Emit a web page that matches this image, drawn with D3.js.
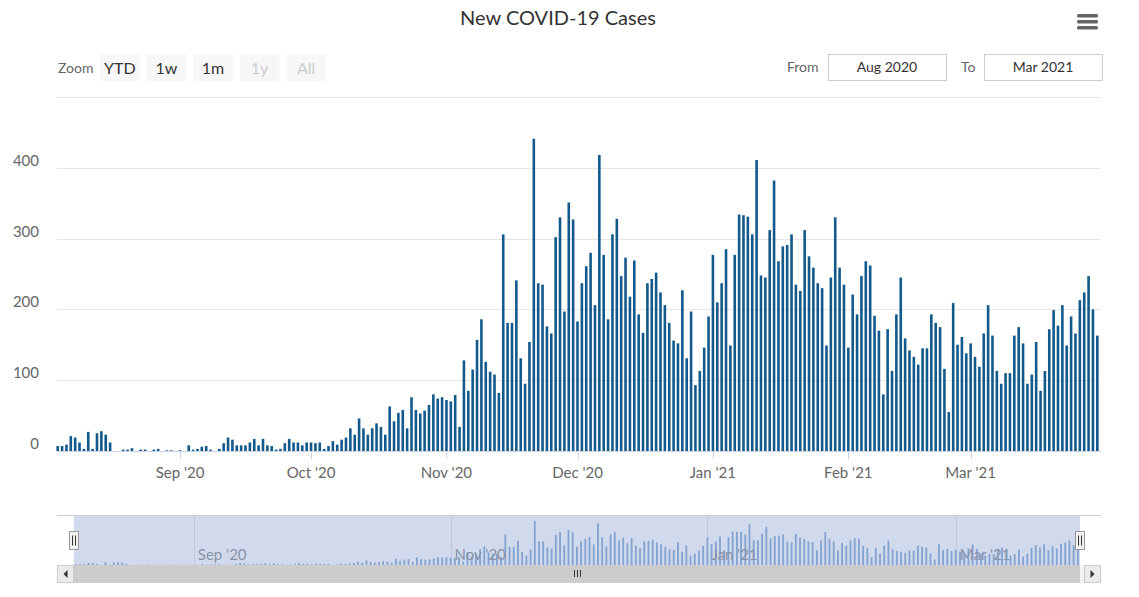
<!DOCTYPE html>
<html>
<head>
<meta charset="utf-8">
<script src="https://cdn.jsdelivr.net/npm/d3@7"></script>
<style>
  body { margin: 0; background: #fff; }
  text { font-family: Lato, "Open Sans", sans-serif; }
</style>
</head>
<body>
<div id="chart"></div>
<script>
// daily values, first bar is 4 Aug 2020, last is 30 Mar 2021
const startDay = "2020-08-04";
const newCases = [
  7,7,9,21,19,12,3,27,3,25,28,23,12,0,0,2,2,4,0,2,2,0,2,3,0,1,1,0,1,0,8,
  2,3,6,7,2,0,3,11,19,16,8,8,8,12,17,8,17,8,7,2,3,11,17,12,12,8,12,12,
  11,12,3,7,14,9,16,19,32,23,46,32,23,32,39,34,23,63,42,54,58,32,76,58,53,57,65,80,74,76,
  72,70,79,34,128,85,115,157,186,126,112,108,82,306,181,181,241,131,95,154,441,237,235,176,166,302,330,197,351,327,
  183,237,261,280,206,418,277,186,306,328,247,273,218,269,193,167,237,243,252,224,206,181,156,152,227,131,197,93,113,146,190,
  277,210,237,285,149,277,334,333,331,306,411,248,245,312,382,268,289,291,306,235,226,312,275,259,237,230,149,245,330,259,235,
  146,221,193,247,268,262,191,170,80,172,113,193,245,159,142,133,122,145,145,193,181,175,116,55,209,150,161,138,
  152,133,119,166,206,163,113,95,110,110,163,175,152,95,108,154,85,113,172,199,177,206,149,190,166,213,224,247,200,163
];

const yTicks = [0, 100, 200, 300, 400, 500];
const monthTicks = ["2020-09-01","2020-10-01","2020-11-01","2020-12-01","2021-01-01","2021-02-01","2021-03-01"];
const monthLabels = ["Sep '20","Oct '20","Nov '20","Dec '20","Jan '21","Feb '21","Mar '21"];
const navTicks = ["2020-09-01","2020-11-01","2021-01-01","2021-03-01"];
const navLabels = ["Sep '20","Nov '20","Jan '21","Mar '21"];
const zoomButtons = ["YTD", "1w", "1m", "1y", "All"];
const zoomEnabled = [true, true, true, false, false];
const fromText = "Aug 2020";
const toText = "Mar 2021";

const W = 1139, H = 597;
const plotL = 57, plotR = 1101, plotT = 97, plotB = 451;
const navTop = 515, navBottom = 565;

const parse = d3.timeParse("%Y-%m-%d");
const first = parse(startDay);
const days = newCases.map((v, i) => d3.timeDay.offset(first, i));
const last = days[days.length - 1];
const rangeStart = d3.timeHour.offset(first, -12);
const rangeEnd = d3.timeHour.offset(last, 12);

const svg = d3.select("#chart").append("svg")
  .attr("width", W)
  .attr("height", H);

svg.append("rect").attr("width", W).attr("height", H).attr("fill", "#fff");

// title + menu
svg.append("text")
  .attr("x", 558).attr("y", 25)
  .attr("text-anchor", "middle")
  .attr("font-size", 20)
  .attr("fill", "#333")
  .text("New COVID-19 Cases");

svg.append("g").selectAll("rect")
  .data([14, 20, 26])
  .enter().append("rect")
    .attr("x", 1077).attr("y", d => d)
    .attr("width", 21).attr("height", 3.5)
    .attr("rx", 1.5)
    .attr("fill", "#666");

// range selector
svg.append("text")
  .attr("x", 58).attr("y", 73)
  .attr("font-size", 14).attr("fill", "#666")
  .text("Zoom");

const btnX = d3.scaleBand().domain(zoomButtons).range([100, 326]).paddingInner(0.15);
const btn = svg.append("g").selectAll("g")
  .data(zoomButtons)
  .enter().append("g")
    .attr("transform", d => "translate(" + btnX(d) + ",54)");
btn.append("rect")
  .attr("width", btnX.bandwidth()).attr("height", 27)
  .attr("fill", "#f7f7f7");
btn.append("text")
  .attr("x", btnX.bandwidth() / 2).attr("y", 20)
  .attr("text-anchor", "middle")
  .attr("font-size", 16)
  .attr("fill", (d, i) => zoomEnabled[i] ? "#333" : "#cccccc")
  .text(d => d);

// from / to boxes
function inputBox(label, labelX, boxX, value) {
  svg.append("text")
    .attr("x", labelX).attr("y", 72)
    .attr("font-size", 14).attr("fill", "#666")
    .text(label);
  svg.append("rect")
    .attr("x", boxX + 0.5).attr("y", 54.5)
    .attr("width", 118).attr("height", 26)
    .attr("fill", "#fff").attr("stroke", "#cccccc");
  svg.append("text")
    .attr("x", boxX + 59).attr("y", 72)
    .attr("text-anchor", "middle")
    .attr("font-size", 14).attr("fill", "#333")
    .text(value);
}
inputBox("From", 787, 828, fromText);
inputBox("To", 961, 984, toText);

// main chart
const x = d3.scaleTime().domain([rangeStart, rangeEnd]).range([plotL - 1.5, plotR - 1.5]);
const y = d3.scaleLinear().domain([0, 500]).range([plotB, plotT]);

svg.append("g").selectAll("line")
  .data(yTicks.slice(1))
  .enter().append("line")
    .attr("x1", plotL).attr("x2", plotR)
    .attr("y1", d => Math.round(y(d)) + 0.5)
    .attr("y2", d => Math.round(y(d)) + 0.5)
    .attr("stroke", "#e6e6e6");

svg.append("g").selectAll("text")
  .data(yTicks.slice(0, -1))
  .enter().append("text")
    .attr("x", 39).attr("y", d => y(d) - 2)
    .attr("text-anchor", "end")
    .attr("font-size", 15).attr("fill", "#666")
    .text(d => d);

const bw = 2.6;
svg.append("g").selectAll("rect")
  .data(newCases)
  .enter().append("rect")
    .attr("x", (d, i) => x(days[i]) - bw / 2)
    .attr("y", d => y(d))
    .attr("width", bw)
    .attr("height", d => plotB - y(d))
    .attr("fill", "#135a8c");

svg.append("line")
  .attr("x1", plotL).attr("x2", plotR)
  .attr("y1", plotB + 0.5).attr("y2", plotB + 0.5)
  .attr("stroke", "#ccd6eb");

const mt = monthTicks.map(parse);
svg.append("g").selectAll("line")
  .data(mt)
  .enter().append("line")
    .attr("x1", d => Math.round(x(d)) + 0.5).attr("x2", d => Math.round(x(d)) + 0.5)
    .attr("y1", plotB).attr("y2", plotB + 8)
    .attr("stroke", "#ccd6eb");
svg.append("g").selectAll("text")
  .data(mt)
  .enter().append("text")
    .attr("x", d => x(d)).attr("y", 478)
    .attr("text-anchor", "middle")
    .attr("font-size", 15).attr("fill", "#666")
    .text((d, i) => monthLabels[i]);

// navigator
const navX = d3.scaleTime()
  .domain([d3.timeDay.offset(rangeStart, -4), d3.timeDay.offset(rangeEnd, 5)])
  .range([plotL, plotR]);
const navY = d3.scaleLinear().domain([0, 500]).range([navBottom, navTop]);
const nt = navTicks.map(parse);

svg.append("g").selectAll("line")
  .data(nt)
  .enter().append("line")
    .attr("x1", d => Math.round(navX(d)) + 0.5).attr("x2", d => Math.round(navX(d)) + 0.5)
    .attr("y1", navTop).attr("y2", navBottom)
    .attr("stroke", "#e6e6e6");

svg.append("g").selectAll("rect")
  .data(newCases)
  .enter().append("rect")
    .attr("x", (d, i) => navX(days[i]) - 0.9)
    .attr("y", d => navY(d))
    .attr("width", 1.8)
    .attr("height", d => navBottom - navY(d))
    .attr("fill", "#8eb0d6");

svg.append("g").selectAll("text")
  .data(nt)
  .enter().append("text")
    .attr("x", d => navX(d) + 4).attr("y", 560)
    .attr("font-size", 15).attr("fill", "#999")
    .text((d, i) => navLabels[i]);

const mL = navX(rangeStart), mR = navX(rangeEnd);
svg.append("rect")
  .attr("x", mL).attr("y", navTop)
  .attr("width", mR - mL).attr("height", navBottom - navTop)
  .attr("fill", "rgba(102,133,194,0.3)");

svg.append("line")
  .attr("x1", plotL).attr("x2", plotR)
  .attr("y1", navTop + 0.5).attr("y2", navTop + 0.5)
  .attr("stroke", "#cccccc");

// scrollbar
svg.append("rect")
  .attr("x", plotL).attr("y", navBottom)
  .attr("width", plotR - plotL).attr("height", 18)
  .attr("fill", "#f2f2f2");
svg.append("rect")
  .attr("x", mL).attr("y", navBottom)
  .attr("width", mR - mL).attr("height", 18)
  .attr("fill", "#cccccc");
[[plotL, -1], [plotR - 17, 1]].forEach(([bx, dir]) => {
  svg.append("rect")
    .attr("x", bx + 0.5).attr("y", navBottom + 0.5)
    .attr("width", 16).attr("height", 17)
    .attr("fill", "#ebebeb").attr("stroke", "#cccccc");
  const cx = bx + 8.5, cy = navBottom + 9;
  svg.append("path")
    .attr("d", "M" + (cx - 2 * dir) + "," + (cy - 4) + "L" + (cx + 2 * dir) + "," + cy + "L" + (cx - 2 * dir) + "," + (cy + 4) + "Z")
    .attr("fill", "#333");
});
const gx = (mL + mR) / 2;
svg.append("g").selectAll("line")
  .data([-3, 0, 3])
  .enter().append("line")
    .attr("x1", d => Math.round(gx) + d + 0.5).attr("x2", d => Math.round(gx) + d + 0.5)
    .attr("y1", navBottom + 5).attr("y2", navBottom + 12)
    .attr("stroke", "#333");

// handles
[mL, mR].forEach(hx => {
  const h = svg.append("g").attr("transform", "translate(" + Math.round(hx) + ",531)");
  h.append("rect")
    .attr("x", -4.5).attr("y", 0.5)
    .attr("width", 9).attr("height", 18)
    .attr("fill", "#f2f2f2").attr("stroke", "#999");
  h.selectAll("line")
    .data([-1.5, 1.5])
    .enter().append("line")
      .attr("x1", d => d).attr("x2", d => d)
      .attr("y1", 4.5).attr("y2", 14.5)
      .attr("stroke", "#333");
});
</script>
</body>
</html>
